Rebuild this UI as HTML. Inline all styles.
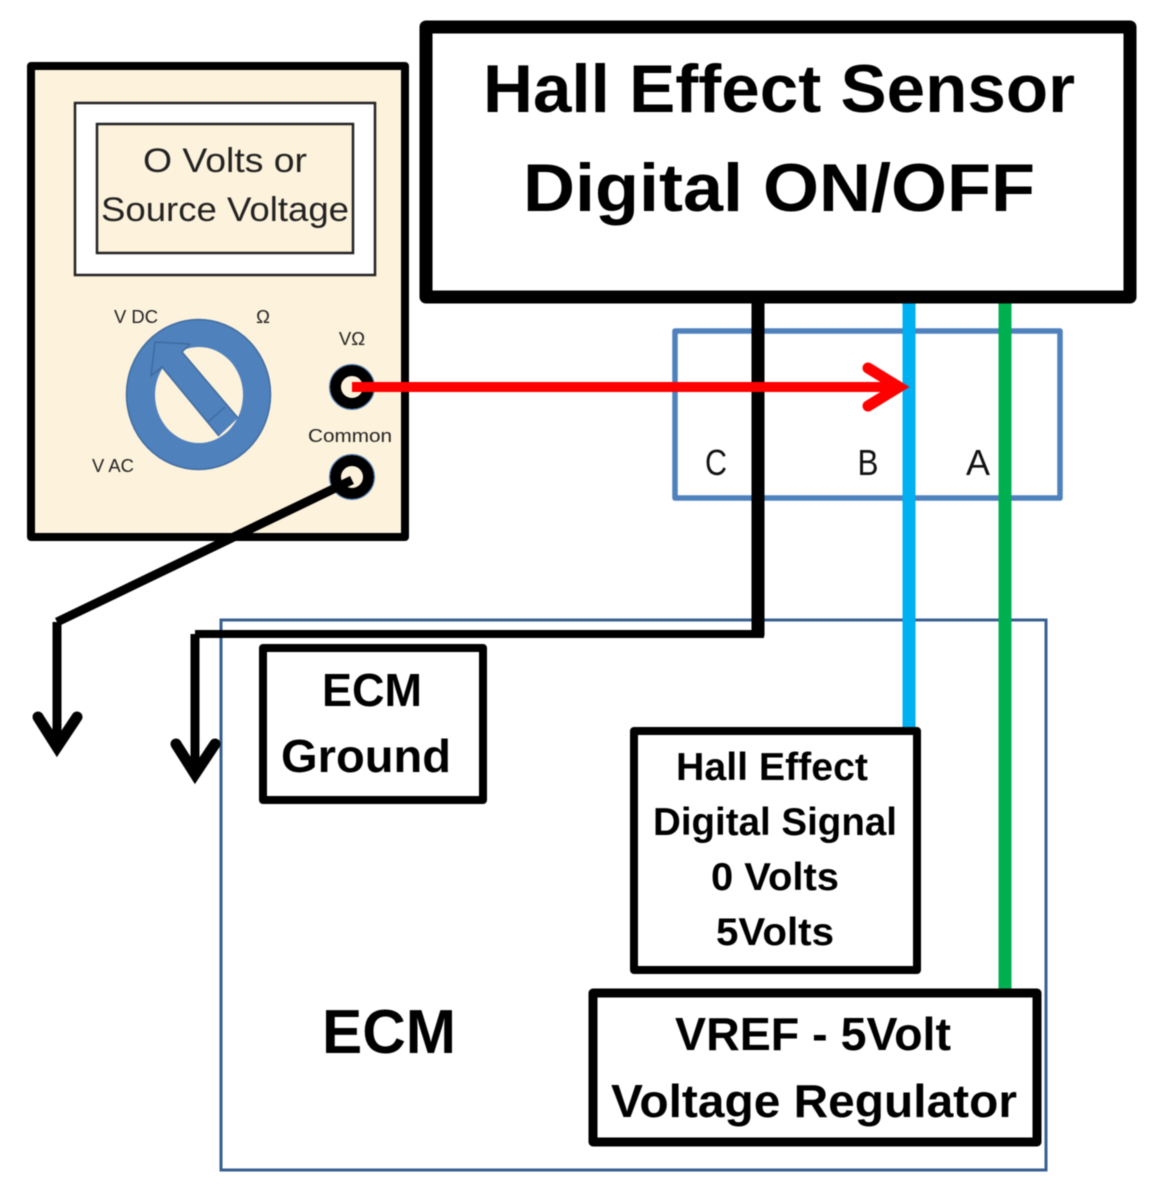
<!DOCTYPE html>
<html><head><meta charset="utf-8"><style>
html,body{margin:0;padding:0;background:#fff;width:1158px;height:1200px;overflow:hidden}
svg{display:block;filter:blur(.5px)}
text{font-family:"Liberation Sans",sans-serif;text-anchor:middle}
.b{font-weight:bold;fill:#000}
.r{fill:#222}
</style></head><body>
<svg width="1158" height="1200" viewBox="0 0 1158 1200" xmlns="http://www.w3.org/2000/svg">
<rect width="1158" height="1200" fill="#fff"/>
<!-- Meter -->
<rect x="31" y="66" width="374" height="471" fill="#fdf2dc" stroke="#000" stroke-width="8" stroke-linejoin="round"/>
<rect x="75" y="103" width="300" height="172" fill="#fff" stroke="#222" stroke-width="2.5"/>
<rect x="97" y="124" width="256" height="129" fill="#fdf2dc" stroke="#222" stroke-width="2.5"/>
<text class="r" x="225" y="172" font-size="34" textLength="164" lengthAdjust="spacingAndGlyphs">O Volts or</text>
<text class="r" x="225" y="221" font-size="34" textLength="248" lengthAdjust="spacingAndGlyphs">Source Voltage</text>
<!-- Dial -->
<ellipse cx="198.500" cy="394.500" rx="72" ry="75" fill="#4f81bd" stroke="#3f6c9f" stroke-width="1.500"/>
<ellipse cx="199" cy="395" rx="44" ry="48" fill="#fdf2dc"/>
<polygon points="155,342 190,344 182,352 238,418 219,436 162,367 151,376" fill="#4f81bd"/>
<polyline points="238,418 182,352 190,344 155,342 151,376 162,367 219,436" fill="none" stroke="#3f6c9f" stroke-width="1.500" stroke-linejoin="round"/>
<line x1="208" y1="422" x2="225" y2="407" stroke="#3f6c9f" stroke-width="1.500"/>
<text class="r" x="136" y="323" font-size="18.500" textLength="44" lengthAdjust="spacingAndGlyphs">V DC</text>
<text class="r" x="263" y="323" font-size="18.500">Ω</text>
<text class="r" x="352" y="345" font-size="18.500">VΩ</text>
<text class="r" x="350" y="442" font-size="18.500" textLength="84" lengthAdjust="spacingAndGlyphs">Common</text>
<text class="r" x="113" y="472" font-size="18.500" textLength="42" lengthAdjust="spacingAndGlyphs">V AC</text>
<!-- Jacks -->
<circle cx="352" cy="387" r="16.500" fill="#fdf2dc" stroke="#000" stroke-width="11"/>
<circle cx="352" cy="387" r="22.500" fill="none" stroke="#4f81bd" stroke-width="1"/>
<circle cx="352" cy="477" r="16.500" fill="#fdf2dc" stroke="#000" stroke-width="11"/>
<circle cx="352" cy="477" r="22.500" fill="none" stroke="#4f81bd" stroke-width="1"/>
<!-- Connector -->
<rect x="675" y="331" width="385" height="167" fill="none" stroke="#4f81bd" stroke-width="5.500" stroke-linejoin="round"/>
<text x="716" y="475" font-size="36" fill="#111" textLength="22" lengthAdjust="spacingAndGlyphs">C</text>
<text x="868" y="475" font-size="36" fill="#111" textLength="21" lengthAdjust="spacingAndGlyphs">B</text>
<text x="978" y="475" font-size="36" fill="#111" textLength="24" lengthAdjust="spacingAndGlyphs">A</text>
<!-- ECM box -->
<rect x="221" y="620" width="825" height="550" fill="none" stroke="#376092" stroke-width="3"/>
<!-- Wires -->
<line x1="909" y1="297" x2="909" y2="730" stroke="#00b0f0" stroke-width="13"/>
<line x1="1005" y1="297" x2="1005" y2="992" stroke="#00b050" stroke-width="13"/>
<line x1="758" y1="297" x2="758" y2="636" stroke="#000" stroke-width="13"/>
<line x1="764" y1="634" x2="195" y2="634" stroke="#000" stroke-width="8"/>
<line x1="195" y1="634" x2="195" y2="772" stroke="#000" stroke-width="9"/>
<polyline points="176,744 195,774 215,744" fill="none" stroke="#000" stroke-width="11" stroke-linecap="round" stroke-linejoin="miter"/>
<line x1="352" y1="480" x2="57" y2="622" stroke="#000" stroke-width="9"/>
<line x1="57" y1="622" x2="57" y2="746" stroke="#000" stroke-width="9"/>
<polyline points="38,717 57,747 77,717" fill="none" stroke="#000" stroke-width="11" stroke-linecap="round" stroke-linejoin="miter"/>
<line x1="352" y1="387" x2="895" y2="387" stroke="#f00" stroke-width="10"/>
<polyline points="868,368 899,387 868,406" fill="none" stroke="#f00" stroke-width="11" stroke-linecap="round" stroke-linejoin="miter"/>
<!-- Sensor -->
<rect x="426" y="27" width="704" height="270" fill="#fff" stroke="#000" stroke-width="13" stroke-linejoin="round"/>
<text class="b" x="779" y="112" font-size="68" textLength="592" lengthAdjust="spacingAndGlyphs">Hall Effect Sensor</text>
<text class="b" x="779" y="211" font-size="68" textLength="512" lengthAdjust="spacingAndGlyphs">Digital ON/OFF</text>
<!-- ECM Ground -->
<rect x="263" y="648" width="220" height="152" fill="#fff" stroke="#000" stroke-width="8" stroke-linejoin="round"/>
<text class="b" x="372" y="706" font-size="46" fill="#111" textLength="100" lengthAdjust="spacingAndGlyphs">ECM</text>
<text class="b" x="366" y="772" font-size="46" fill="#111" textLength="170" lengthAdjust="spacingAndGlyphs">Ground</text>
<!-- Hall signal -->
<rect x="634" y="731" width="283" height="239" fill="#fff" stroke="#000" stroke-width="8" stroke-linejoin="round"/>
<text class="b" x="772" y="780" font-size="39" textLength="192" lengthAdjust="spacingAndGlyphs">Hall Effect</text>
<text class="b" x="775" y="835" font-size="39" textLength="244" lengthAdjust="spacingAndGlyphs">Digital Signal</text>
<text class="b" x="775" y="890" font-size="39" textLength="128" lengthAdjust="spacingAndGlyphs">0 Volts</text>
<text class="b" x="775" y="945" font-size="39" textLength="118" lengthAdjust="spacingAndGlyphs">5Volts</text>
<!-- VREF -->
<rect x="593" y="993" width="444" height="149" fill="#fff" stroke="#000" stroke-width="9" stroke-linejoin="round"/>
<text class="b" x="813" y="1050" font-size="46" textLength="276" lengthAdjust="spacingAndGlyphs">VREF - 5Volt</text>
<text class="b" x="814" y="1117" font-size="46" textLength="406" lengthAdjust="spacingAndGlyphs">Voltage Regulator</text>
<!-- ECM label -->
<text class="b" x="389" y="1053" font-size="62" textLength="134" lengthAdjust="spacingAndGlyphs">ECM</text>
</svg>
</body></html>
